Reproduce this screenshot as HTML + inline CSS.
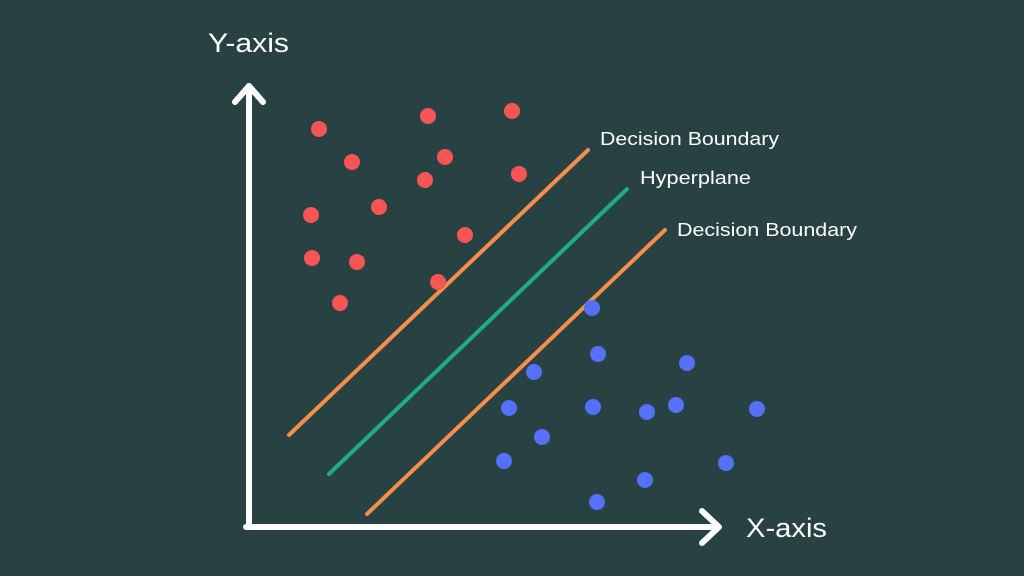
<!DOCTYPE html>
<html><head><style>html,body{margin:0;padding:0;background:#284244;}svg{display:block}</style></head>
<body>
<svg width="1024" height="576" xmlns="http://www.w3.org/2000/svg">
<rect width="1024" height="576" fill="#284244"/>
<g stroke="#fff" stroke-width="6" fill="none" stroke-linecap="round" stroke-linejoin="round">
<line x1="249" y1="88" x2="249" y2="527"/>
<line x1="246" y1="527" x2="716" y2="527"/>
<polyline points="235,102 249,86 263,102"/>
<polyline points="702,511 719,527 702,543"/>
</g>
<g stroke-width="4" stroke-linecap="round">
<line x1="289" y1="435" x2="588" y2="150" stroke="#f98e4a"/>
<line x1="329" y1="474" x2="627" y2="189" stroke="#1fab8b"/>
<line x1="367" y1="514" x2="665" y2="230" stroke="#f98e4a"/>
</g>
<g fill="#fa5555">
<circle cx="319" cy="129" r="8"/><circle cx="428" cy="116" r="8"/><circle cx="512" cy="111" r="8"/>
<circle cx="352" cy="162" r="8"/><circle cx="445" cy="157" r="8"/><circle cx="425" cy="180" r="8"/>
<circle cx="519" cy="174" r="8"/><circle cx="311" cy="215" r="8"/><circle cx="379" cy="207" r="8"/>
<circle cx="465" cy="235" r="8"/><circle cx="312" cy="258" r="8"/><circle cx="357" cy="262" r="8"/>
<circle cx="438" cy="282" r="8"/><circle cx="340" cy="303" r="8"/>
</g>
<g fill="#5570fa">
<circle cx="592" cy="308" r="8"/><circle cx="598" cy="354" r="8"/><circle cx="687" cy="363" r="8"/>
<circle cx="534" cy="372" r="8"/><circle cx="509" cy="408" r="8"/><circle cx="593" cy="407" r="8"/>
<circle cx="647" cy="412" r="8"/><circle cx="676" cy="405" r="8"/><circle cx="757" cy="409" r="8"/>
<circle cx="542" cy="437" r="8"/><circle cx="504" cy="461" r="8"/><circle cx="726" cy="463" r="8"/>
<circle cx="645" cy="480" r="8"/><circle cx="597" cy="502" r="8"/>
</g>
<g fill="#fff" font-family="'Liberation Sans', sans-serif">
<text x="208" y="52" font-size="27" textLength="81" lengthAdjust="spacingAndGlyphs">Y-axis</text>
<text x="746" y="537" font-size="27" textLength="81" lengthAdjust="spacingAndGlyphs">X-axis</text>
<text x="600" y="145" font-size="18" textLength="179" lengthAdjust="spacingAndGlyphs">Decision Boundary</text>
<text x="640" y="184" font-size="18" textLength="111" lengthAdjust="spacingAndGlyphs">Hyperplane</text>
<text x="677" y="236" font-size="18" textLength="180" lengthAdjust="spacingAndGlyphs">Decision Boundary</text>
</g>
</svg>
</body></html>
